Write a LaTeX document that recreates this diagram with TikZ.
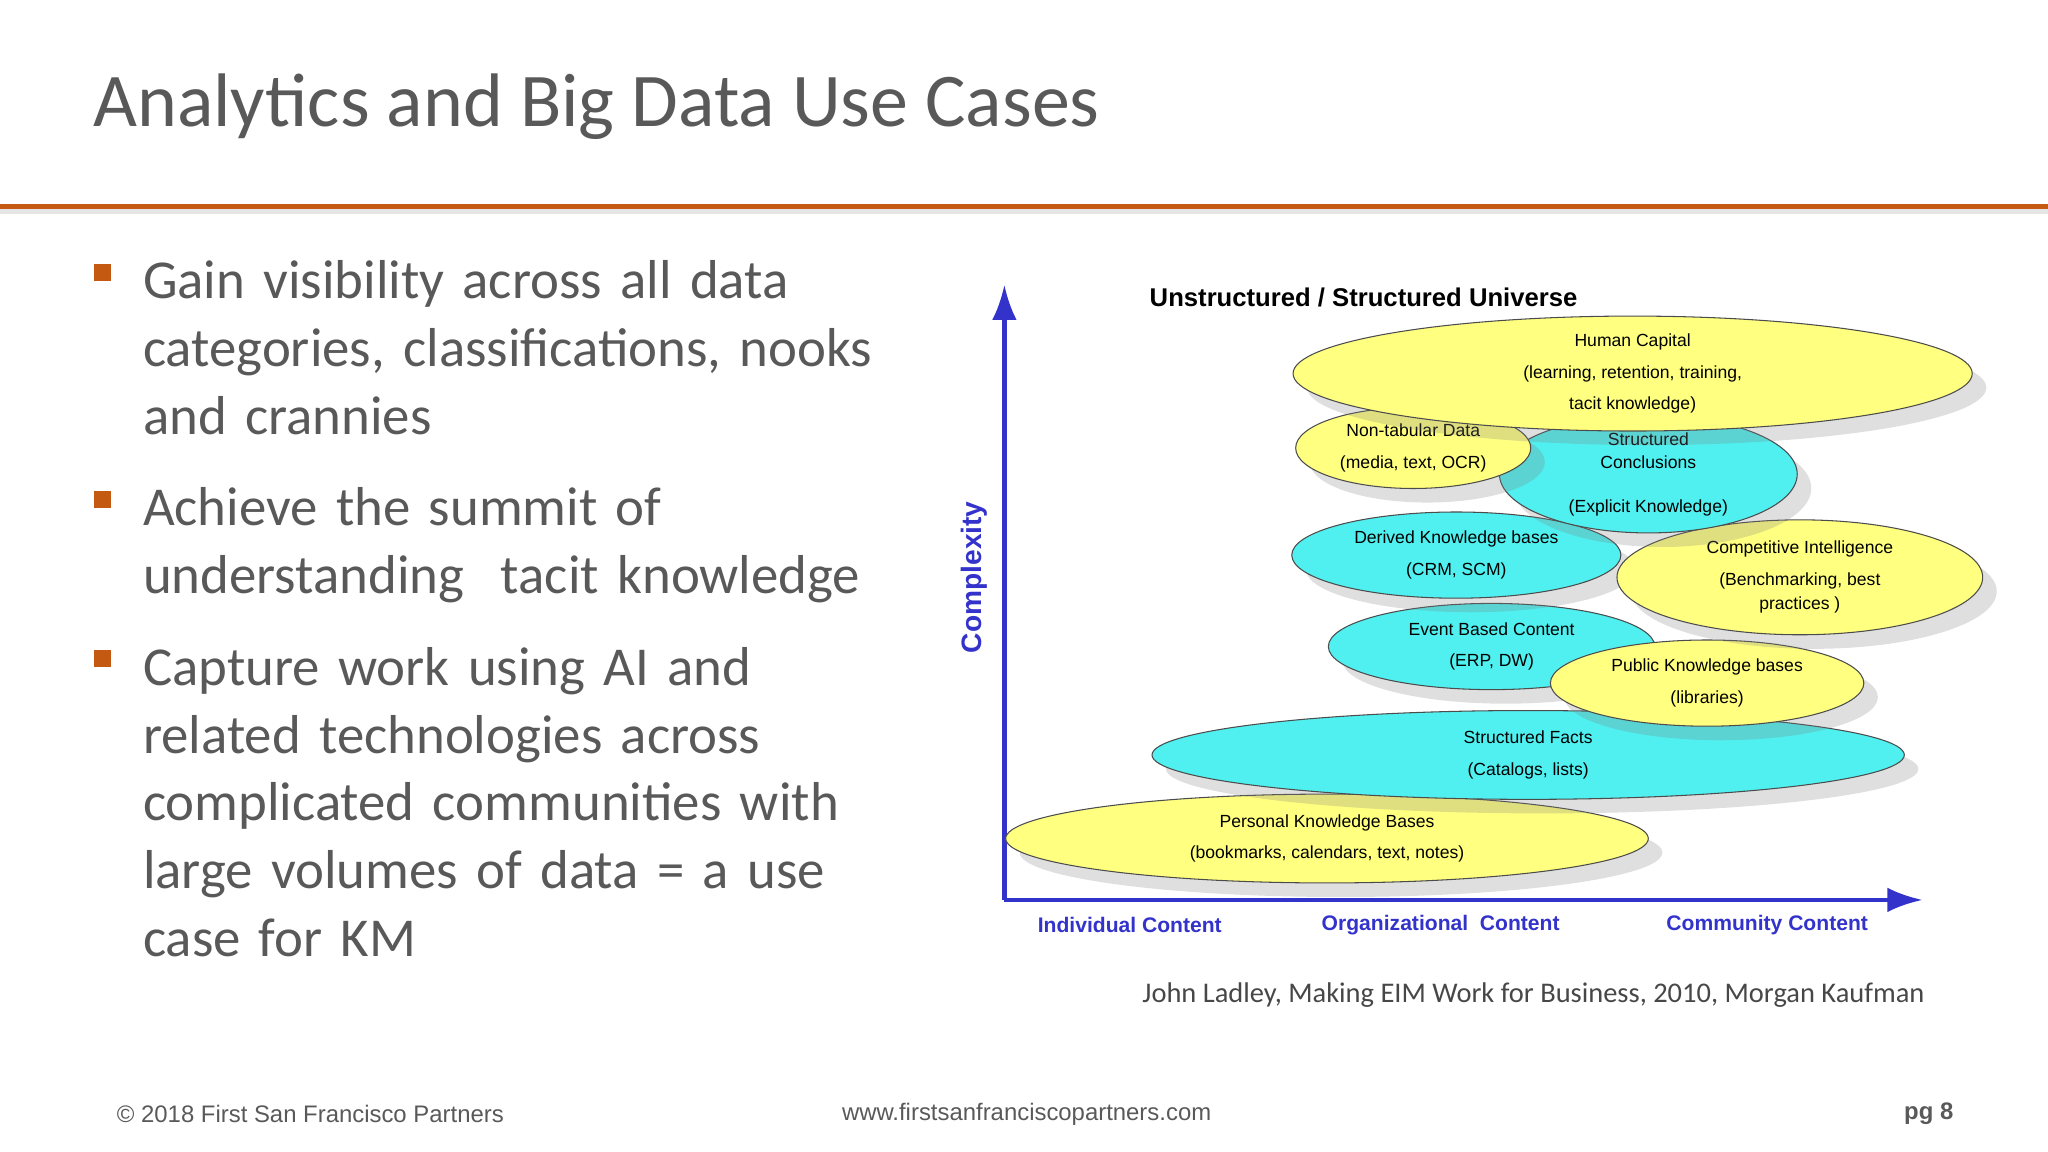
\documentclass[tikz,border=0pt]{standalone}
\usepackage{fontspec}
\setmainfont{Carlito}
\setsansfont{Liberation Sans}
\usetikzlibrary{shapes.geometric,shadows,arrows.meta}
\definecolor{rulebrown}{RGB}{196,89,17}
\definecolor{bodygray}{RGB}{89,89,89}
\definecolor{axisblue}{RGB}{51,51,204}
\definecolor{kyellow}{RGB}{255,255,128}
\definecolor{kcyan}{RGB}{80,240,240}
\hyphenpenalty=10000
\tikzset{
  blob/.style={ellipse, draw=black!70, line width=0.3pt, inner sep=0pt,
    drop shadow={shadow xshift=4pt, shadow yshift=-4pt, opacity=0.25},
    align=center, font=\sffamily\fontsize{5}{9}\selectfont},
  yblob/.style={blob, fill=kyellow},
  cblob/.style={blob, fill=kcyan},
  bsize/.style 2 args={minimum width=#1*0.01306cm, minimum height=#2*0.01306cm},
  bullet/.style={anchor=north west, text width=7.6cm, align=left, text=bodygray,
    font=\fontsize{15.6}{19.3}\selectfont},
  axislbl/.style={text=axisblue, font=\sffamily\bfseries\fontsize{6}{7}\selectfont}
}
\begin{document}
\begin{tikzpicture}[x=0.01306cm, y=-0.01306cm]
\useasboundingbox (0,0) rectangle (1568,882);

% title and rule
\node (title) [anchor=west, text=bodygray, font=\fontsize{21.6}{26}\selectfont] at (62,82) {Analytics and Big Data Use Cases};
\fill[black!10] (0,160) rectangle (1568,164);
\draw[rulebrown, line width=1.4pt] (0,158) -- (1568,158);

% bullets
\fill[rulebrown] (72,202) rectangle (85,215);
\node (b1) [bullet] at (100,190) {Gain visibility across all data categories, classifications, nooks and crannies};
\fill[rulebrown] (72,376) rectangle (85,389);
\node (b2) [bullet] at (100,364) {Achieve the summit of understanding\ \ tacit knowledge};
\fill[rulebrown] (72,498) rectangle (85,511);
\node (b3) [bullet] at (100,486) {Capture work using AI and related technologies across complicated communities with large volumes of data = a use case for KM};

% chart axes
\coordinate (orig) at (769,689);
\coordinate (ytop) at (769,218);
\coordinate (xend) at (1472,689);
\draw[axisblue, line width=1.2pt, -{Latex[length=10pt,width=7pt]}] (orig) -- (ytop);
\draw[axisblue, line width=1.2pt, -{Latex[length=10pt,width=7pt]}] (orig) -- (xend);
\node (univ) [font=\sffamily\bfseries\fontsize{7.3}{8}\selectfont] at (1044,228) {Unstructured / Structured Universe};
\node (cplx) [axislbl, rotate=90, font=\sffamily\bfseries\fontsize{8}{9}\selectfont] at (746,442) {Complexity};
\node (indiv) [axislbl] at (865,708) {Individual Content};
\node (org) [axislbl] at (1103,708) {Organizational\ \ Content};
\node (comm) [axislbl] at (1353,708) {Community Content};

% knowledge blobs
\node (personal) [yblob, bsize={492}{68}] at (1016,642) {Personal Knowledge Bases\\(bookmarks, calendars, text, notes)};
\node (facts) [cblob, bsize={576}{68}] at (1170,578) {Structured Facts\\(Catalogs, lists)};
\node (event) [cblob, bsize={250}{66}] at (1142,495) {Event Based Content\\(ERP, DW)};
\node (public) [yblob, bsize={240}{66}] at (1307,523) {Public Knowledge bases\\(libraries)};
\node (derived) [cblob, bsize={252}{66}] at (1115,425) {Derived Knowledge bases\\(CRM, SCM)};
\node (compet) [yblob, bsize={280}{88}, font=\sffamily\fontsize{5}{7}\selectfont] at (1378,442) {Competitive Intelligence\\[2pt](Benchmarking, best\\practices )};
\node (concl) [cblob, bsize={228}{82}, font=\sffamily\fontsize{5}{6.5}\selectfont] at (1262,363) {Structured\\Conclusions\\[6pt](Explicit Knowledge)};
\node (nontab) [yblob, bsize={180}{62}] at (1082,343) {Non-tabular Data\\(media, text, OCR)};
\node (human) [yblob, bsize={520}{88}] at (1250,286) {Human Capital\\(learning, retention, training,\\tacit knowledge)};

% source and footer
\node (src) [text=bodygray!80!black, font=\fontsize{8.1}{9}\selectfont] at (1174,762) {John Ladley, Making EIM Work for Business, 2010, Morgan Kaufman};
\node (copy) [anchor=west, text=bodygray, font=\sffamily\fontsize{6.8}{8}\selectfont] at (80,853) {© 2018 First San Francisco Partners};
\node (web) [text=bodygray, font=\sffamily\fontsize{6.8}{8}\selectfont] at (786,853) {www.firstsanfranciscopartners.com};
\node (pg) [anchor=east, text=bodygray, font=\sffamily\bfseries\fontsize{6.8}{8}\selectfont] at (1505,853) {pg 8};
\end{tikzpicture}
\end{document}
